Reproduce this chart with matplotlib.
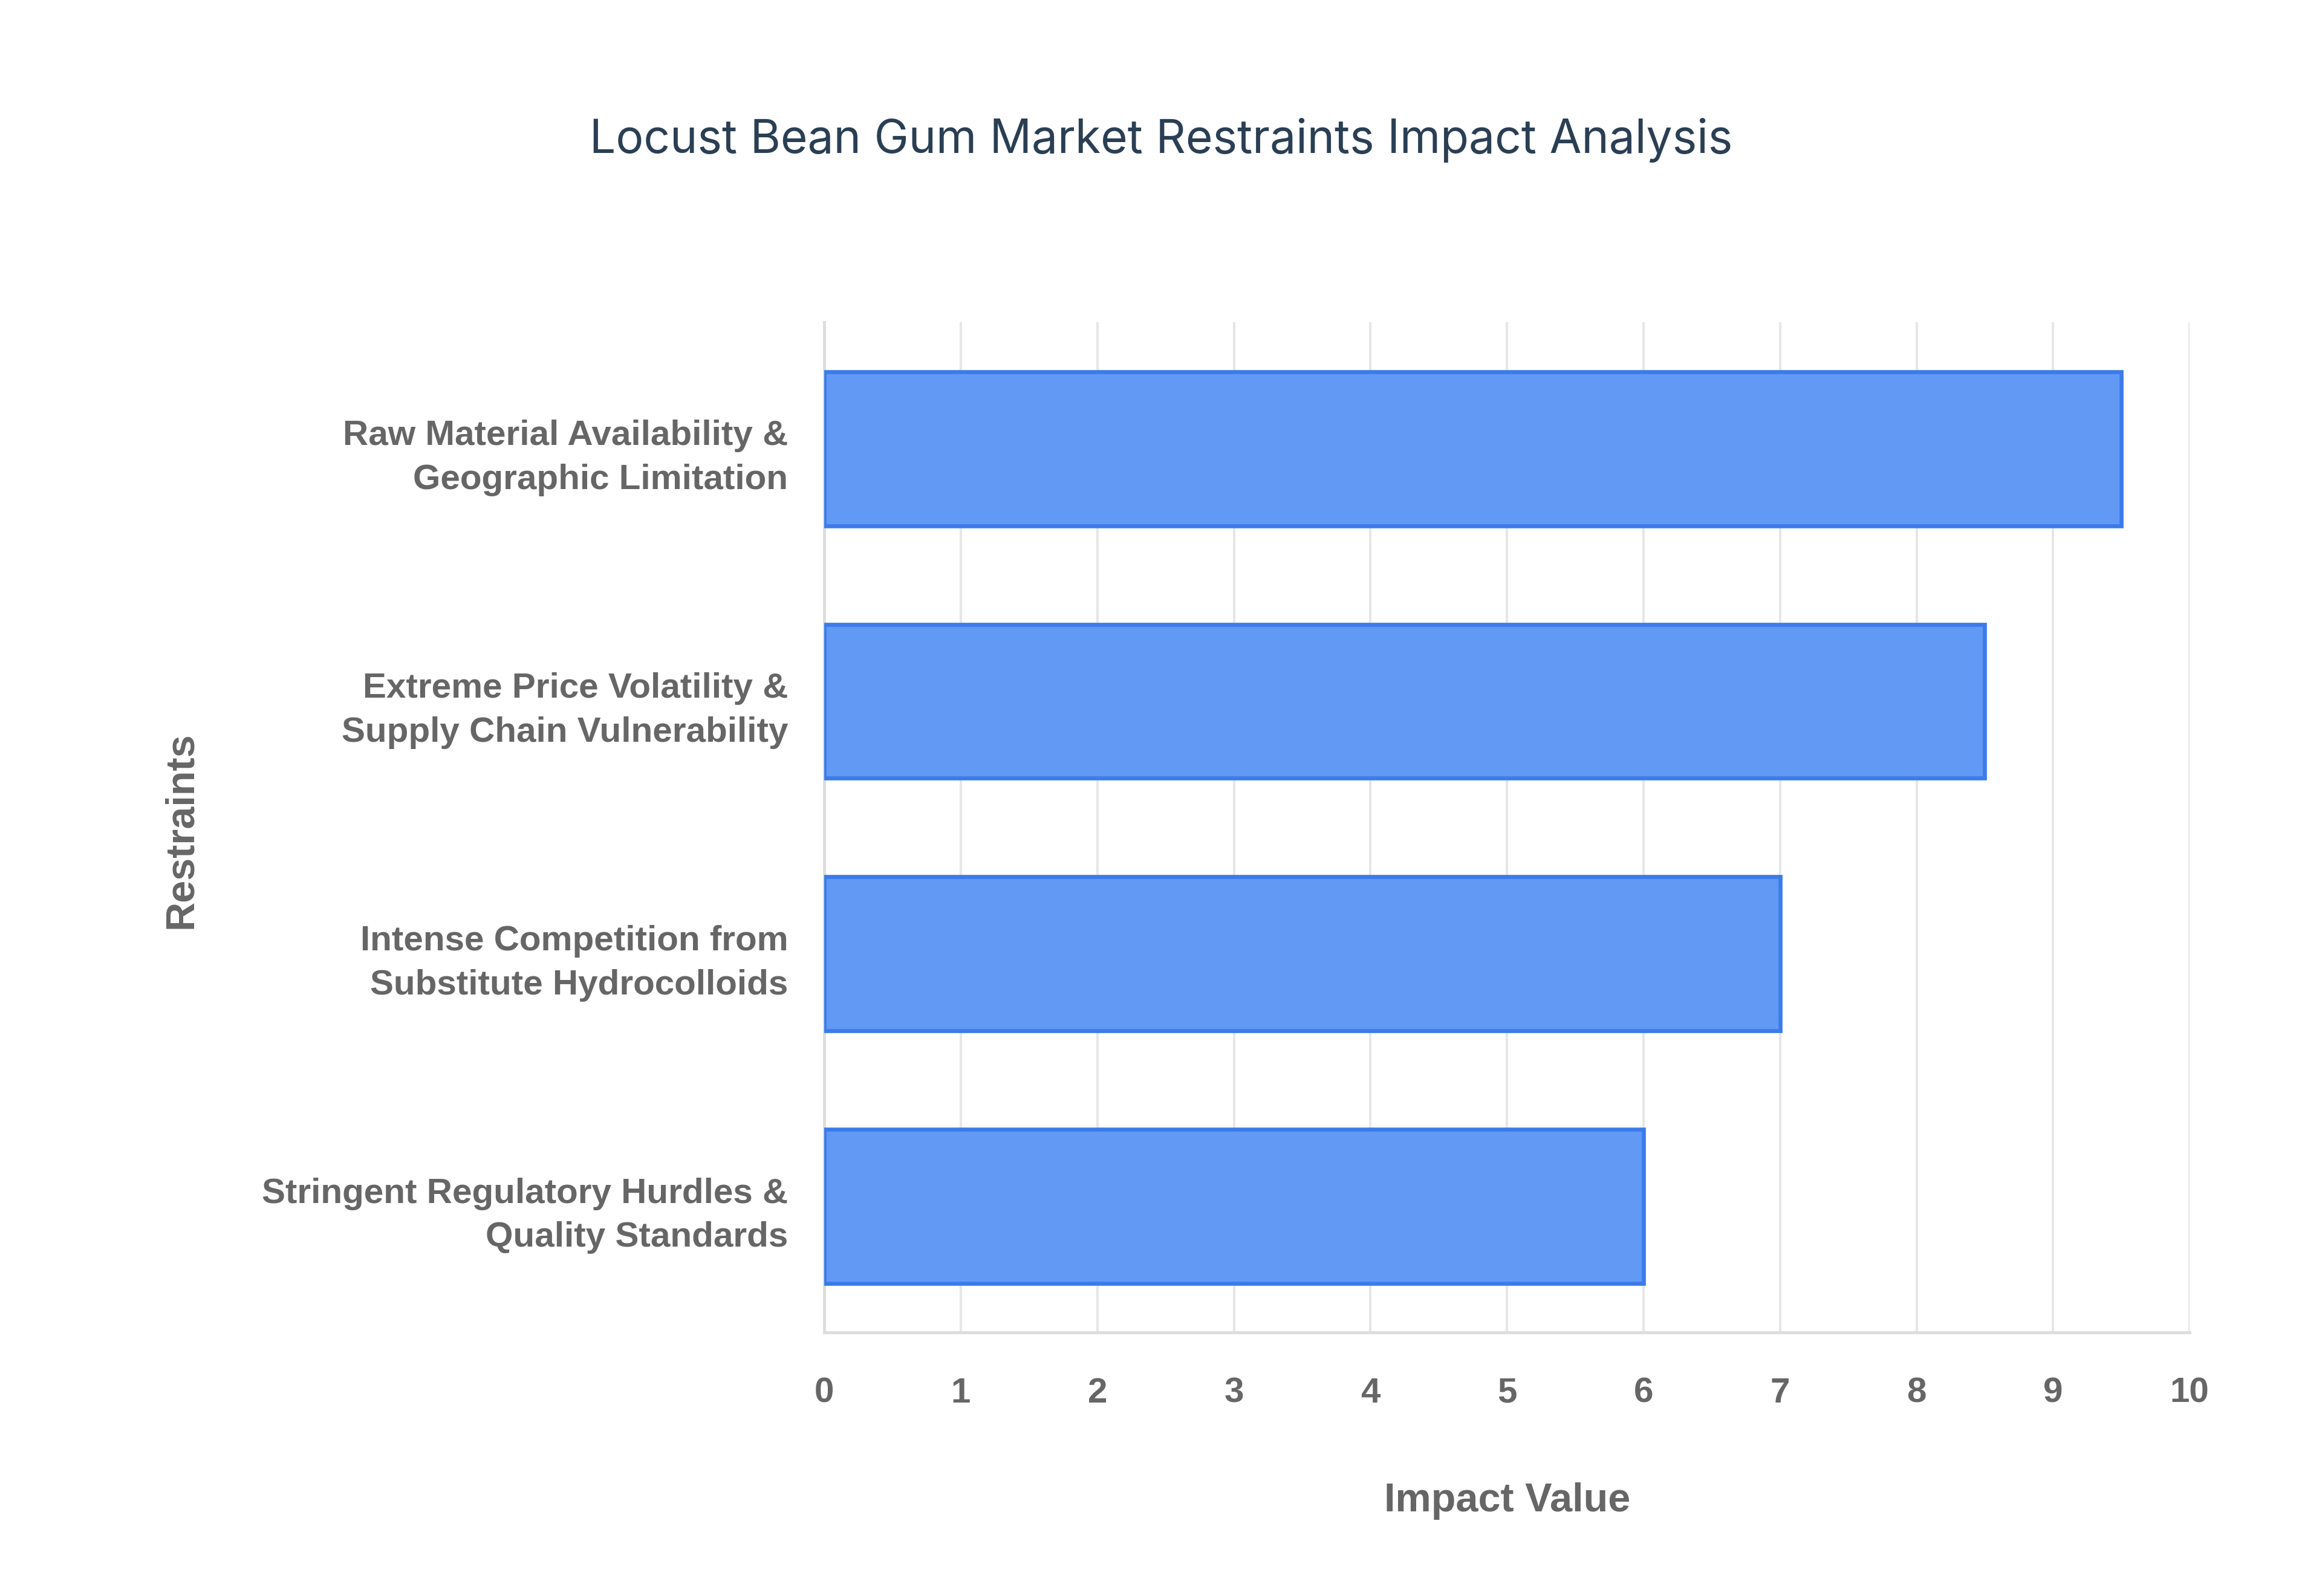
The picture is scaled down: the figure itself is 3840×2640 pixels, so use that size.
import matplotlib
matplotlib.use("Agg")
import matplotlib.pyplot as plt

restraints = [
    "Raw Material Availability &\nGeographic Limitation",
    "Extreme Price Volatility &\nSupply Chain Vulnerability",
    "Intense Competition from\nSubstitute Hydrocolloids",
    "Stringent Regulatory Hurdles &\nQuality Standards",
]
impact = [9.5, 8.5, 7.0, 6.0]
x_ticks = list(range(0, 11))

fig = plt.figure(figsize=(16, 11), dpi=240)
ax = fig.add_axes([0.355, 0.165, 0.588, 0.633])

ypos = list(range(len(restraints)))[::-1]
ax.barh(ypos, impact, height=0.61, color="#6199F5", edgecolor="#3B7BEA",
        linewidth=2, zorder=3)

ax.set_xlim(0, 10)
ax.set_ylim(-0.5, 3.5)
ax.set_xticks(x_ticks)
ax.set_yticks(ypos)
ax.set_yticklabels(restraints, linespacing=1.45)
ax.grid(axis="x", color="#E6E6E6", linewidth=1.2, zorder=0)
for side in ("top", "right"):
    ax.spines[side].set_visible(False)
for side in ("left", "bottom"):
    ax.spines[side].set_color("#DDDDDD")
    ax.spines[side].set_linewidth(1.5)
ax.tick_params(length=0)
ax.tick_params(axis="x", pad=22)
ax.tick_params(axis="y", pad=18)
for lbl in ax.get_xticklabels() + ax.get_yticklabels():
    lbl.set_fontfamily("Liberation Sans")
    lbl.set_fontweight("bold")
    lbl.set_fontsize(17.5)
    lbl.set_color("#666666")

ax.set_xlabel("Impact Value", fontsize=20, fontweight="bold", color="#666666",
              family="Liberation Sans", labelpad=36)
fig.text(0.078, 0.48, "Restraints", rotation=90, fontsize=20, fontweight="bold",
         color="#666666", family="Liberation Sans", ha="center", va="center")
fig.text(0.5, 0.912, "Locust Bean Gum Market Restraints Impact Analysis",
         fontsize=23, color="#2A3F54", family="Inter", ha="center", va="center")

fig.savefig("out.png", dpi=240, facecolor="white")
